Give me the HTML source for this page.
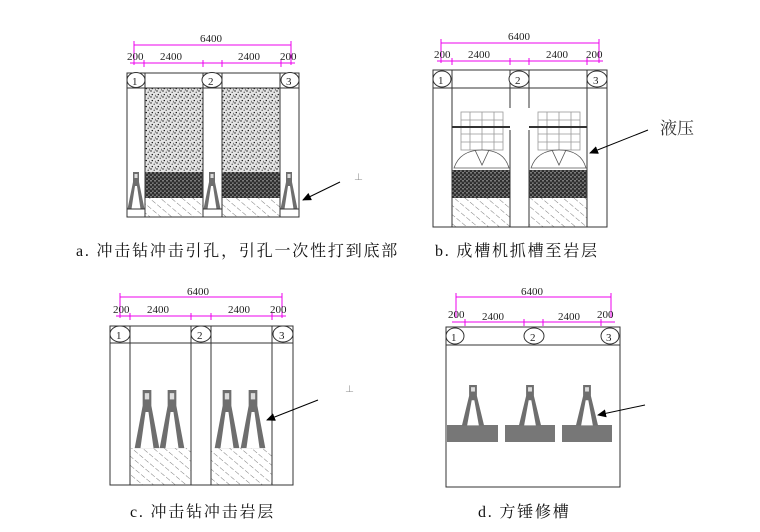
<!DOCTYPE html>
<html><head><meta charset="utf-8"><style>
html,body{margin:0;padding:0;background:#fff;}
svg{display:block;}
text{font-family:"Liberation Serif","Noto Serif CJK SC",serif;}
.dim{font-family:"Liberation Sans",sans-serif;font-size:11px;fill:#222;}
.cap{font-size:16px;fill:#111;letter-spacing:1.8px;}
</style></head><body>
<svg width="760" height="532" viewBox="0 0 760 532" xmlns="http://www.w3.org/2000/svg">
<defs>
<pattern id="lsp" width="6" height="6" patternUnits="userSpaceOnUse">
<rect width="6" height="6" fill="#e4e4e4"/>
<circle cx="1" cy="1" r="0.7" fill="#111"/><circle cx="4.2" cy="2.2" r="0.6" fill="#222"/>
<circle cx="2.3" cy="4.6" r="0.7" fill="#111"/><circle cx="5.4" cy="5.3" r="0.5" fill="#333"/>
<circle cx="5.2" cy="0.4" r="0.4" fill="#333"/>
</pattern>
<pattern id="dsp" width="4" height="4" patternUnits="userSpaceOnUse">
<rect width="4" height="4" fill="#555"/>
<circle cx="1" cy="1" r="0.9" fill="#111"/><circle cx="3" cy="3" r="0.8" fill="#000"/>
<circle cx="3" cy="0.7" r="0.45" fill="#ddd"/><circle cx="0.8" cy="3.2" r="0.4" fill="#bbb"/>
</pattern>
<pattern id="hat" width="7" height="7" patternUnits="userSpaceOnUse" patternTransform="rotate(-50)">
<rect width="7" height="7" fill="#fff"/><line x1="0" y1="0" x2="0" y2="7" stroke="#444" stroke-width="0.7" stroke-dasharray="5 2"/>
</pattern>
<g id="tool">
<path d="M-3,0 H3 V10 L8.5,37 H-8.5 L-3,10 Z" fill="#6e6e6e"/>
<path d="M-1,14 H1 L4.5,37 H-4.5 Z" fill="#fff"/>
<rect x="-1.5" y="2" width="3" height="4" fill="#ddd"/>
</g>
<marker id="ah" markerWidth="9" markerHeight="8" refX="8" refY="4" orient="auto" markerUnits="userSpaceOnUse"><path d="M0,0 L9,4 L0,8z" fill="#000"/></marker>
</defs>

<g stroke="#e0e" stroke-width="1" fill="none">
<line x1="134" y1="45" x2="291" y2="45"/><line x1="134" y1="41" x2="134" y2="65"/><line x1="291" y1="41" x2="291" y2="65"/>
<line x1="130" y1="63" x2="295" y2="63"/>
<line x1="144" y1="60" x2="144" y2="67"/><line x1="203" y1="60" x2="203" y2="67"/><line x1="222" y1="60" x2="222" y2="67"/><line x1="281" y1="60" x2="281" y2="67"/>
<line x1="441" y1="43" x2="599" y2="43"/><line x1="441" y1="39" x2="441" y2="63"/><line x1="599" y1="39" x2="599" y2="63"/>
<line x1="437" y1="61" x2="603" y2="61"/>
<line x1="452" y1="58" x2="452" y2="65"/><line x1="510" y1="58" x2="510" y2="65"/><line x1="529" y1="58" x2="529" y2="65"/><line x1="587" y1="58" x2="587" y2="65"/>
<line x1="120" y1="297" x2="282" y2="297"/><line x1="120" y1="293" x2="120" y2="318"/><line x1="282" y1="293" x2="282" y2="318"/>
<line x1="116" y1="316" x2="286" y2="316"/>
<line x1="130" y1="313" x2="130" y2="320"/><line x1="191" y1="313" x2="191" y2="320"/><line x1="211" y1="313" x2="211" y2="320"/><line x1="272" y1="313" x2="272" y2="320"/>
<line x1="456" y1="297" x2="611" y2="297"/><line x1="456" y1="293" x2="456" y2="318"/><line x1="611" y1="293" x2="611" y2="318"/>
<line x1="452" y1="322" x2="615" y2="322"/>
<line x1="465" y1="319" x2="465" y2="326"/><line x1="524" y1="319" x2="524" y2="326"/><line x1="543" y1="319" x2="543" y2="326"/><line x1="601" y1="319" x2="601" y2="326"/>
</g>
<g class="dim">
<text x="200" y="42">6400</text><text x="127" y="60">200</text><text x="160" y="60">2400</text><text x="238" y="60">2400</text><text x="280" y="60">200</text>
<text x="508" y="40">6400</text><text x="434" y="58">200</text><text x="468" y="58">2400</text><text x="546" y="58">2400</text><text x="586" y="58">200</text>
<text x="187" y="295">6400</text><text x="113" y="313">200</text><text x="147" y="313">2400</text><text x="228" y="313">2400</text><text x="270" y="313">200</text>
<text x="521" y="295">6400</text><text x="448" y="318">200</text><text x="482" y="320">2400</text><text x="558" y="320">2400</text><text x="597" y="318">200</text>
</g>

<!-- panel a -->
<rect x="145" y="88" width="58" height="84" fill="url(#lsp)"/><rect x="222" y="88" width="58" height="84" fill="url(#lsp)"/>
<rect x="145" y="172" width="58" height="26" fill="url(#dsp)"/><rect x="222" y="172" width="58" height="26" fill="url(#dsp)"/>
<rect x="145" y="198" width="58" height="19" fill="url(#hat)"/><rect x="222" y="198" width="58" height="19" fill="url(#hat)"/>
<use href="#tool" transform="translate(136,172)"/><use href="#tool" transform="translate(212,172)"/><use href="#tool" transform="translate(289,172)"/>
<g stroke="#333" fill="none" stroke-width="1">
<rect x="127" y="73" width="172" height="144"/><line x1="127" y1="88" x2="299" y2="88"/>
<line x1="145" y1="73" x2="145" y2="217"/><line x1="203" y1="73" x2="203" y2="217"/><line x1="222" y1="73" x2="222" y2="217"/><line x1="280" y1="73" x2="280" y2="217"/>
<line x1="127" y1="209" x2="145" y2="209"/><line x1="203" y1="209" x2="222" y2="209"/><line x1="280" y1="209" x2="299" y2="209"/>
<ellipse cx="136" cy="80" rx="9" ry="7.5" fill="#fff"/><ellipse cx="212" cy="80" rx="10" ry="7.5" fill="#fff"/><ellipse cx="290" cy="80" rx="9" ry="7.5" fill="#fff"/>
</g>
<g class="dim" font-size="12"><text x="132" y="85">1</text><text x="208" y="85">2</text><text x="286" y="85">3</text></g>
<line x1="340" y1="182" x2="303" y2="200" stroke="#000" marker-end="url(#ah)"/>
<text x="354" y="180" font-size="9" fill="#666">⊥</text>

<!-- panel b -->
<rect x="452" y="170" width="58" height="28" fill="url(#dsp)"/><rect x="529" y="170" width="58" height="28" fill="url(#dsp)"/>
<rect x="452" y="198" width="58" height="29" fill="url(#hat)"/><rect x="529" y="198" width="58" height="29" fill="url(#hat)"/>
<g stroke="#555" fill="none" stroke-width="0.8">
<g id="mach">
<rect x="461" y="112" width="42" height="38" fill="#fff" stroke="#999"/>
<line x1="470" y1="112" x2="470" y2="150" stroke="#999"/><line x1="482" y1="112" x2="482" y2="150" stroke="#999"/><line x1="494" y1="112" x2="494" y2="150" stroke="#999"/>
<line x1="461" y1="120" x2="503" y2="120" stroke="#999"/><line x1="461" y1="134" x2="503" y2="134" stroke="#999"/><line x1="461" y1="142" x2="503" y2="142" stroke="#999"/>
<line x1="452" y1="127" x2="510" y2="127" stroke="#333" stroke-width="2"/>
<path d="M454,168 Q460,150 482,150 Q504,150 509,168z" fill="#fff"/>
<path d="M475,150 L482,165 L489,150" />
</g>
<use href="#mach" x="77"/>
</g>
<g stroke="#333" fill="none" stroke-width="1">
<rect x="433" y="70" width="174" height="157"/><line x1="433" y1="88" x2="607" y2="88"/>
<line x1="452" y1="70" x2="452" y2="227"/><line x1="587" y1="70" x2="587" y2="227"/>
<line x1="510" y1="70" x2="510" y2="108"/><line x1="529" y1="70" x2="529" y2="108"/>
<line x1="510" y1="130" x2="510" y2="227"/><line x1="529" y1="130" x2="529" y2="227"/>
<ellipse cx="442" cy="79" rx="9" ry="8" fill="#fff"/><ellipse cx="519" cy="79" rx="10" ry="8" fill="#fff"/><ellipse cx="597" cy="79" rx="10" ry="8" fill="#fff"/>
</g>
<g class="dim" font-size="12"><text x="438" y="84">1</text><text x="515" y="84">2</text><text x="593" y="84">3</text></g>
<line x1="648" y1="130" x2="590" y2="153" stroke="#000" marker-end="url(#ah)"/>
<text x="660" y="134" font-size="17" fill="#333" font-family="Liberation Sans,'Noto Sans CJK SC',sans-serif">液压</text>

<!-- panel c -->
<rect x="130" y="448" width="61" height="37" fill="url(#hat)"/><rect x="211" y="448" width="61" height="37" fill="url(#hat)"/>
<use href="#tool" transform="translate(147,390) scale(1.45,1.57)"/>
<use href="#tool" transform="translate(172,390) scale(1.45,1.57)"/>
<use href="#tool" transform="translate(227,390) scale(1.45,1.57)"/>
<use href="#tool" transform="translate(253,390) scale(1.45,1.57)"/>
<g stroke="#333" fill="none" stroke-width="1">
<rect x="110" y="326" width="183" height="159"/><line x1="110" y1="343" x2="293" y2="343"/>
<line x1="130" y1="326" x2="130" y2="485"/><line x1="191" y1="326" x2="191" y2="485"/><line x1="211" y1="326" x2="211" y2="485"/><line x1="272" y1="326" x2="272" y2="485"/>
<ellipse cx="120" cy="334" rx="10" ry="8" fill="#fff"/><ellipse cx="201" cy="334" rx="10" ry="8" fill="#fff"/><ellipse cx="283" cy="334" rx="10" ry="8" fill="#fff"/>
</g>
<g class="dim" font-size="12"><text x="116" y="339">1</text><text x="197" y="339">2</text><text x="279" y="339">3</text></g>
<line x1="318" y1="400" x2="267" y2="420" stroke="#000" marker-end="url(#ah)"/>
<text x="345" y="392" font-size="9" fill="#666">⊥</text>

<!-- panel d -->
<g fill="#777">
<rect x="447" y="425" width="51" height="17"/><rect x="505" y="425" width="50" height="17"/><rect x="562" y="425" width="50" height="17"/>
</g>
<use href="#tool" transform="translate(473,385) scale(1.3,1.09)"/>
<use href="#tool" transform="translate(530,385) scale(1.3,1.09)"/>
<use href="#tool" transform="translate(587,385) scale(1.3,1.09)"/>
<g stroke="#333" fill="none" stroke-width="1">
<rect x="446" y="327" width="174" height="160"/><line x1="446" y1="345" x2="620" y2="345"/>
<ellipse cx="455" cy="336" rx="9" ry="8" fill="#fff"/><ellipse cx="534" cy="336" rx="10" ry="8" fill="#fff"/><ellipse cx="610" cy="336" rx="9" ry="8" fill="#fff"/>
</g>
<g class="dim" font-size="12"><text x="451" y="341">1</text><text x="530" y="341">2</text><text x="606" y="341">3</text></g>
<line x1="645" y1="405" x2="598" y2="415" stroke="#000" marker-end="url(#ah)"/>

<!-- captions -->
<text class="cap" x="76" y="256">a. 冲击钻冲击引孔，引孔一次性打到底部</text>
<text class="cap" x="435" y="256">b. 成槽机抓槽至岩层</text>
<text class="cap" x="130" y="517">c. 冲击钻冲击岩层</text>
<text class="cap" x="478" y="517">d. 方锤修槽</text>
</svg>
</body></html>
